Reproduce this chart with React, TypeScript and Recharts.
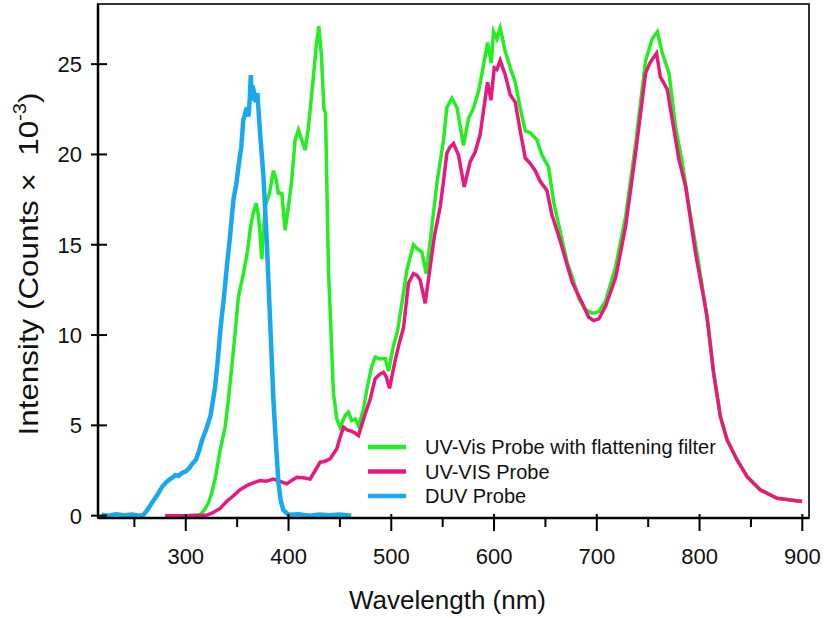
import React from 'react';
import { LineChart, Line, XAxis, YAxis, Legend, ReferenceArea } from 'recharts';

// ---- DUV Probe (blue) ----
const duvWl = [218, 225, 232, 240, 248, 255, 259, 263, 267, 270, 274, 277, 281, 284, 287, 290, 293, 296, 300, 303, 306, 310, 313, 316, 320, 324, 328.5, 331, 333.4, 335, 337, 340, 343, 346.4, 349, 352.2, 354, 356, 358, 359.4, 361, 362.2, 363.3, 364.2, 365, 366.5, 368, 369.7, 371, 372.3, 375.6, 378.9, 381.4, 383.5, 385.3, 388, 390.2, 392.5, 395, 400, 410, 420, 430, 440, 450, 461];
const duvVal = [0.05, 0.0, 0.08, 0.02, 0.06, 0.0, 0.05, 0.35, 0.7, 0.95, 1.3, 1.6, 1.85, 2.0, 2.1, 2.25, 2.2, 2.35, 2.45, 2.6, 2.85, 3.1, 3.6, 4.2, 4.8, 5.5, 7.1, 8.5, 10.1, 11.0, 12.0, 13.8, 15.4, 17.5, 18.3, 19.7, 20.4, 21.9, 22.3, 22.6, 22.1, 23.0, 24.4, 23.0, 23.8, 23.4, 22.9, 23.4, 22.3, 21.2, 18.8, 15.1, 11.7, 8.9, 6.4, 3.8, 1.8, 0.8, 0.3, 0.05, 0.08, 0.0, 0.06, 0.02, 0.07, 0.0];

// ---- UV-Vis Probe with flattening filter (green) ----
const greenWl = [280, 300, 314, 318, 322, 325, 328.5, 333.4, 338.3, 341.5, 344.8, 348, 351.2, 356.1, 360, 362.6, 365, 368.5, 370.5, 372.3, 374, 377.2, 381.4, 385.3, 388, 390.2, 393.5, 396.7, 399.9, 403.2, 406.4, 409.6, 412.9, 416.2, 419.4, 424.2, 427, 429.5, 432, 434.5, 436, 438.9, 440.5, 443.7, 447, 450.2, 455.1, 458.3, 461.6, 464.9, 468.1, 473, 476.2, 481.1, 484.3, 489.2, 494.1, 497.3, 502.1, 506, 510.3, 515.2, 518.4, 521.6, 525, 529.8, 534, 537.9, 544.4, 550.8, 554.1, 559, 563.9, 570.3, 575.2, 580, 584.9, 589.8, 593.7, 597.3, 599.5, 602.8, 606, 610.9, 615.8, 620.6, 625.5, 630.4, 635.3, 641.8, 646.6, 650.1, 653.1, 657.9, 664.5, 671, 676.2, 682.7, 689, 695.6, 702, 708.6, 718.4, 728, 737.8, 747.5, 754, 758.9, 763.8, 770.3, 776.7, 783.3, 789.8, 798.5, 807.3, 813.7, 820.3, 826.8, 836.5, 846.3, 859.2, 875.5, 899.8];
const greenVal = [0, 0, 0.05, 0.3, 0.7, 1.2, 2.0, 3.6, 4.9, 6.4, 8.25, 10.1, 12.1, 13.4, 14.6, 15.8, 16.6, 17.3, 16.7, 15.6, 14.2, 17.1, 17.85, 19.1, 18.6, 17.85, 17.85, 15.8, 17.1, 18.6, 20.8, 21.36, 20.8, 20.25, 21.5, 24.3, 26.0, 27.1, 25.5, 22.5, 22.3, 13.5, 11.4, 6.8, 5.35, 4.9, 5.54, 5.73, 5.26, 5.35, 4.98, 5.9, 7.0, 8.3, 8.77, 8.68, 8.7, 8.0, 9.4, 10.2, 11.76, 13.6, 14.3, 15.0, 14.8, 14.6, 13.4, 15.2, 18.4, 20.8, 22.6, 23.1, 22.6, 20.5, 22.0, 22.56, 23.5, 24.96, 26.2, 25.05, 26.8, 26.4, 27.0, 25.7, 24.8, 24.0, 22.56, 21.3, 21.2, 20.8, 19.97, 19.6, 19.3, 17.4, 15.7, 14.06, 13.2, 12.0, 11.4, 11.2, 11.3, 11.9, 13.8, 16.55, 20.6, 25.2, 26.4, 26.8, 25.6, 24.5, 21.5, 19.5, 17.1, 14.2, 11.0, 7.9, 5.48, 4.19, 3.08, 2.16, 1.42, 0.96, 0.78];

// ---- UV-VIS Probe (magenta) ----
const visWl = [280, 300, 320, 326, 333.4, 340, 346.4, 352, 359.4, 365, 372.3, 378, 385.3, 392, 398.3, 403, 408.1, 414, 421, 426, 430.8, 435, 440.5, 447, 450, 453.5, 457, 460, 464, 468.1, 473, 479.5, 484.3, 488, 492.4, 495, 498.3, 503.8, 508, 511.9, 516.7, 521.6, 525, 528.1, 533, 537.9, 542, 547.6, 551, 554.1, 557, 560.6, 565.4, 571, 576.8, 581.7, 586.5, 591.4, 593.7, 597, 600.2, 602.8, 606, 610.9, 615.8, 620.6, 625.5, 630.4, 635.3, 640.1, 645, 651.5, 656.4, 664.5, 671, 676.2, 685.9, 692, 697, 702, 708.6, 718.4, 728, 737.8, 747.5, 752, 758.2, 761.8, 768.6, 773.5, 780, 786.5, 796.2, 804.4, 807.3, 813.7, 820.3, 826.8, 836.5, 846.3, 859.2, 875.5, 899.8];
const visVal = [0, 0, 0.02, 0.15, 0.4, 0.8, 1.1, 1.4, 1.66, 1.8, 1.94, 1.9, 2.03, 1.9, 1.76, 1.95, 2.13, 2.1, 2.03, 2.5, 2.96, 3.0, 3.14, 3.7, 4.3, 4.9, 4.75, 4.7, 4.6, 4.43, 5.35, 6.46, 7.57, 7.8, 7.94, 7.7, 7.05, 8.6, 9.6, 10.4, 12.87, 13.4, 13.3, 13.05, 11.76, 13.8, 15.5, 17.1, 18.6, 20.07, 20.4, 20.6, 19.97, 18.2, 19.6, 20.15, 21.1, 23.1, 24.0, 23.0, 24.8, 24.7, 25.2, 24.4, 23.3, 22.9, 21.3, 19.8, 19.5, 19.1, 18.5, 18.0, 16.65, 15.2, 13.9, 12.9, 11.76, 11.0, 10.8, 10.9, 11.6, 13.2, 16.0, 20.1, 24.5, 25.1, 25.6, 24.3, 23.6, 21.9, 19.7, 18.2, 14.5, 11.94, 11.0, 7.9, 5.48, 4.19, 3.08, 2.16, 1.42, 0.96, 0.78];

const xTicks = [250, 300, 350, 400, 450, 500, 550, 600, 650, 700, 750, 800, 850, 900];
const yTicks = [0, 5, 10, 15, 20, 25];
const xDomain = [214.6, 906.5];
const yDomain = [-0.13, 28.33];

const seriesNames = ['UV-Vis Probe with flattening filter', 'UV-VIS Probe', 'DUV Probe'];
const seriesColors = ['#22ee22', '#e8187c', '#18a8f0'];

const toPoints = (wl: number[], v: number[]) => wl.map((w, i) => ({ wl: w, v: v[i] }));
const greenData = toPoints(greenWl, greenVal);
const visData = toPoints(visWl, visVal);
const duvData = toPoints(duvWl, duvVal);

const FONT = '"Liberation Sans", Arial, Helvetica, sans-serif';

function XTick(props: any) {
  const { x, y, payload } = props;
  const major = payload.value % 100 === 0;
  return (
    <g>
      <line x1={x} x2={x} y1={major ? y - 4 : y - 1} y2={major ? y + 13 : y + 9} stroke="#000" strokeWidth={2} />
      {major && (
        <text x={x} y={y + 46} textAnchor="middle" fontSize={22} fill="#111" fontFamily={FONT}>
          {payload.value}
        </text>
      )}
    </g>
  );
}

function YTick(props: any) {
  const { x, y, payload } = props;
  return (
    <g>
      <line x1={x - 7} x2={x + 9} y1={y} y2={y} stroke="#000" strokeWidth={2} />
      <text x={x - 16} y={y + 8} textAnchor="end" fontSize={22} fill="#111" fontFamily={FONT}>
        {payload.value}
      </text>
    </g>
  );
}

function YTitle(props: any) {
  const vb = props.viewBox || { x: 38, y: 4, width: 60, height: 514 };
  const bx = vb.x;
  const cy = vb.y + vb.height / 2 + 3;
  return (
    <text transform={`translate(${bx},${cy}) rotate(-90) scale(1.12,1)`} textAnchor="middle" fontSize={28} fill="#111" fontFamily={FONT}>
      Intensity (Counts{'\u00A0'}×{'\u00A0\u00A0'}10
      <tspan dy={-12} fontSize={18}>-3</tspan>
      <tspan dy={12}>)</tspan>
    </text>
  );
}

function XTitle(props: any) {
  const vb = props.viewBox || { x: 98, y: 518, width: 711, height: 30 };
  return (
    <text x={vb.x + vb.width / 2 - 6} y={vb.y + 91} textAnchor="middle" fontSize={26} fill="#111" fontFamily={FONT}>
      Wavelength (nm)
    </text>
  );
}

function LegendBox() {
  return (
    <svg width={360} height={80} style={{ display: 'block' }}>
      {seriesNames.map((n, i) => (
        <g key={n}>
          <line x1={2} x2={40} y1={17 + i * 24.5} y2={17 + i * 24.5} stroke={seriesColors[i]} strokeWidth={4.5} />
          <text x={59} y={17 + i * 24.5 + 7} fontSize={20} fill="#111" fontFamily={FONT}>
            {n}
          </text>
        </g>
      ))}
    </svg>
  );
}

export default function App() {
  return (
    <div style={{ position: 'absolute', left: 0, top: 0, background: '#fff' }}>
      <LineChart width={824} height={618} margin={{ top: 4, right: 15, bottom: 70, left: 38 }}>
        <XAxis
          type="number"
          dataKey="wl"
          domain={xDomain}
          ticks={xTicks}
          interval={0}
          allowDataOverflow
          tickSize={0}
          tickMargin={0}
          tickLine={false}
          tick={<XTick />}
          height={30}
          axisLine={{ stroke: '#000', strokeWidth: 2.5 }}
          label={{ content: (p: any) => <XTitle {...p} /> }}
        />
        <YAxis
          type="number"
          domain={yDomain}
          ticks={yTicks}
          interval={0}
          allowDataOverflow
          tickSize={0}
          tickMargin={0}
          tickLine={false}
          tick={<YTick />}
          width={60}
          axisLine={{ stroke: '#000', strokeWidth: 2.5 }}
          label={{ content: (p: any) => <YTitle {...p} /> }}
        />
        <ReferenceArea
          x1={xDomain[0]}
          x2={xDomain[1]}
          y1={yDomain[0]}
          y2={yDomain[1]}
          fill="none"
          fillOpacity={0}
          stroke="#333"
          strokeWidth={2}
          ifOverflow="visible"
        />
        <Line data={greenData} dataKey="v" name={seriesNames[0]} stroke={seriesColors[0]} strokeWidth={3.5} dot={false} isAnimationActive={false} type="linear" />
        <Line data={visData} dataKey="v" name={seriesNames[1]} stroke={seriesColors[1]} strokeWidth={3.5} dot={false} isAnimationActive={false} type="linear" />
        <Line data={duvData} dataKey="v" name={seriesNames[2]} stroke={seriesColors[2]} strokeWidth={4.5} dot={false} isAnimationActive={false} type="linear" />
        <Legend
          layout="vertical"
          align="center"
          verticalAlign="middle"
          wrapperStyle={{ position: 'absolute', left: 366, top: 430, width: 360, height: 80 }}
          content={() => <LegendBox />}
        />
      </LineChart>
    </div>
  );
}
